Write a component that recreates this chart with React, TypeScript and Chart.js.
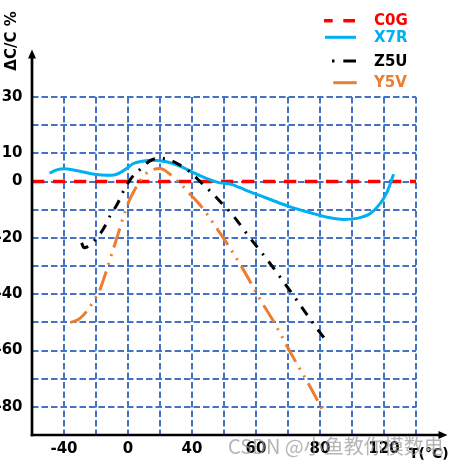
import React, { useEffect, useRef } from "react";
import { Chart, registerables } from "chart.js";

Chart.register(...registerables);

// ---- axes ----
const xMin = -60;
const xMax = 180;
const xStep = 20;
const yMin = -90;
const yMax = 30;
const yStep = 10;
const xTickValues = [-40, 0, 40, 80, 120, 160];
const xTickLabels = ["-40", "0", "40", "60", "80", "120"];
const yTickLabels = [30, 10, 0, -20, -40, -60, -80];
const yTitle = "ΔC/C %";
const xTitle = "T(°C)";
const watermark = "CSDN @小鱼教你模数电";

// ---- series ----
const seriesNames = ["C0G", "X7R", "Z5U", "Y5V"];

const c0gT = [-60, 180];
const c0gV = [0, 0];

const x7rT = [-49, -44, -40, -34, -28, -21, -13, -8, -4, 0, 3, 8.75, 16, 24, 32.7, 40, 49.4, 57.7, 64, 70, 76.4, 89, 101.4, 114, 126.4, 134.75, 143, 151.4, 157.7, 162, 164, 166];
const x7rV = [3.0, 4.2, 4.5, 4.1, 3.4, 2.6, 2.2, 2.4, 3.4, 5.0, 6.3, 7.2, 7.55, 7.0, 5.4, 3.4, 1.05, -0.5, -0.9, -2.2, -3.7, -6.4, -9.0, -11.1, -12.9, -13.5, -13.1, -11.4, -7.8, -3.7, -0.7, 2.6];

const z5uT = [-29, -27.6, -25.5, -20.4, -15.25, -11.3, -6.5, -2.75, 1.4, 8.1, 13.9, 19, 24.4, 31.6, 40, 46.25, 52.5, 58.75, 65, 75.4, 86.9, 97.25, 107.7, 118.1, 124.4];
const z5uV = [-21.8, -23.5, -23.2, -20.6, -16.7, -12.3, -7.8, -3.3, 0.7, 4.6, 7.4, 8.2, 7.9, 6.1, 2.8, -0.7, -4.05, -7.8, -11.6, -19.4, -27.7, -35.6, -43.9, -52.2, -56.9];

const y5vT = [-36, -31, -26, -22, -18, -14, -10, -6, -2, 2, 6, 10, 15, 20, 26, 32, 39, 46, 54, 62, 72, 82, 92, 102, 112, 123.3];
const y5vV = [-50.0, -49.0, -46.2, -42.9, -39.0, -32.6, -25.4, -18.3, -10.9, -5.3, -1.1, 2.1, 4.1, 4.6, 2.7, -0.4, -4.6, -9.0, -15.4, -22.1, -31.2, -41.3, -50.7, -61.2, -71.0, -82.9];

const colors = ["#FF0000", "#00B0F0", "#000000", "#ED7D31"];

const toPoints = (t: number[], v: number[]) => t.map((x, i) => ({ x, y: v[i] }));

const FONT = '"DejaVu Sans", sans-serif';

const decorPlugin = {
  id: "decor",
  afterDatasetsDraw(chart: any) {
    const { ctx, chartArea: a } = chart;
    ctx.save();
    // axes with arrows
    ctx.strokeStyle = "#000";
    ctx.fillStyle = "#000";
    ctx.lineWidth = 2.7;
    ctx.setLineDash([]);
    ctx.beginPath();
    ctx.moveTo(a.left, a.bottom + 1.3);
    ctx.lineTo(a.left, 56);
    ctx.stroke();
    ctx.beginPath();
    ctx.moveTo(a.left, 49.5);
    ctx.lineTo(a.left - 4, 58.5);
    ctx.lineTo(a.left + 4, 58.5);
    ctx.closePath();
    ctx.fill();
    ctx.beginPath();
    ctx.moveTo(a.left - 1.3, a.bottom);
    ctx.lineTo(441, a.bottom);
    ctx.stroke();
    ctx.beginPath();
    ctx.moveTo(447.5, a.bottom);
    ctx.lineTo(438.5, a.bottom - 4);
    ctx.lineTo(438.5, a.bottom + 4);
    ctx.closePath();
    ctx.fill();

    // y title
    ctx.font = "bold 15px " + FONT;
    ctx.textAlign = "center";
    ctx.textBaseline = "middle";
    ctx.save();
    ctx.translate(12.5, 41);
    ctx.rotate(-Math.PI / 2);
    ctx.fillText(yTitle, 0, 0);
    ctx.restore();

    // x title
    ctx.font = "bold 14px " + FONT;
    ctx.textAlign = "left";
    ctx.fillText(xTitle, 409, 454);

    // legend
    const legendSamples: number[][][] = [
      [[324, 332.7], [343.3, 355]],
      [[325, 356]],
      [[332, 334.5], [343.3, 356]],
      [[333.3, 356.7]],
    ];
    const lineYs = [20.7, 37.3, 61, 82.7];
    const textYs = [20.8, 38.2, 61.8, 83.5];
    chart.data.datasets.forEach((ds: any, i: number) => {
      ctx.strokeStyle = ds.borderColor;
      ctx.lineWidth = ds.borderWidth;
      ctx.setLineDash([]);
      legendSamples[i].forEach((seg) => {
        ctx.beginPath();
        ctx.moveTo(seg[0], lineYs[i]);
        ctx.lineTo(seg[1], lineYs[i]);
        ctx.stroke();
      });
      ctx.fillStyle = ds.borderColor;
      ctx.font = "bold 15px " + FONT;
      ctx.textAlign = "left";
      ctx.textBaseline = "middle";
      ctx.fillText(ds.label, 374, textYs[i]);
    });

    // watermark
    ctx.font = '20px "Noto Sans CJK SC", sans-serif';
    ctx.fillStyle = "rgba(150,150,150,0.7)";
    ctx.textAlign = "left";
    ctx.textBaseline = "middle";
    ctx.fillText(watermark, 228, 446);
    ctx.restore();
  },
};

export default function App() {
  const ref = useRef<HTMLCanvasElement | null>(null);
  useEffect(() => {
    document.body.style.margin = "0";
    document.body.style.overflow = "hidden";
    if (!ref.current) return;
    const lineCommon = { pointRadius: 0, fill: false, cubicInterpolationMode: "monotone" as const };
    const chart = new Chart(ref.current, {
      type: "line",
      data: {
        datasets: [
          { label: seriesNames[0], data: toPoints(c0gT, c0gV), borderColor: colors[0], borderWidth: 3.5, borderDash: [12.3, 8.7], pointRadius: 0, order: 3 },
          { label: seriesNames[1], data: toPoints(x7rT, x7rV), borderColor: colors[1], borderWidth: 3, ...lineCommon, order: 2 },
          { label: seriesNames[2], data: toPoints(z5uT, z5uV), borderColor: colors[2], borderWidth: 3, borderDash: [10, 8, 2, 8], ...lineCommon, order: 0 },
          { label: seriesNames[3], data: toPoints(y5vT, y5vV), borderColor: colors[3], borderWidth: 3, borderDash: [20, 7, 2, 7, 2, 7], ...lineCommon, order: 1 },
        ] as any,
      },
      options: {
        animation: false,
        responsive: true,
        maintainAspectRatio: false,
        layout: { padding: { left: 0, top: 97, right: 39, bottom: 0 } },
        plugins: { legend: { display: false }, tooltip: { enabled: false } },
        scales: {
          x: {
            type: "linear",
            min: xMin,
            max: xMax,
            afterFit: (s: any) => { s.height = 31; },
            grid: { color: "#4472C4", lineWidth: 2, drawTicks: false },
            border: { display: false, dash: [6.5, 3] },
            ticks: {
              stepSize: xStep,
              autoSkip: false,
              maxRotation: 0,
              padding: 5,
              color: "#000",
              font: { family: FONT, size: 15, weight: "bold" },
              callback: (v: any) => {
                const i = xTickValues.indexOf(Number(v));
                return i >= 0 ? xTickLabels[i] : "";
              },
            },
          },
          y: {
            type: "linear",
            min: yMin,
            max: yMax,
            afterFit: (s: any) => { s.width = 32; },
            grid: { color: "#4472C4", lineWidth: 2, drawTicks: false },
            border: { display: false, dash: [6.5, 3] },
            ticks: {
              stepSize: yStep,
              autoSkip: false,
              crossAlign: "near",
              padding: 9.5,
              color: "#000",
              font: { family: FONT, size: 15, weight: "bold" },
              callback: (v: any) => (yTickLabels.includes(Number(v)) ? String(v) : ""),
            },
          },
        },
      } as any,
      plugins: [decorPlugin],
    });
    return () => chart.destroy();
  }, []);
  return (
    <div style={{ width: 455, height: 466, position: "relative" }}>
      <canvas ref={ref} />
    </div>
  );
}
